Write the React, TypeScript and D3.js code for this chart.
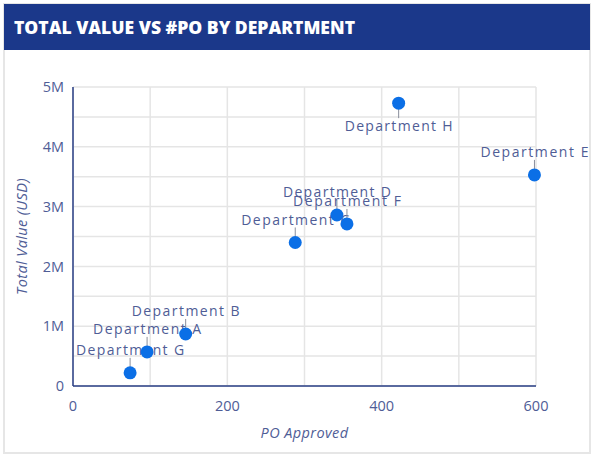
import * as d3 from "d3";

// departments, PO approved count and total value (USD)
const departments = ["Department A", "Department B", "Department C", "Department D", "Department E", "Department F", "Department G", "Department H"];
const poApproved = [96, 146, 288, 342, 598, 355, 74, 422];
const totalValue = [570000, 870000, 2400000, 2860000, 3530000, 2710000, 220000, 4730000];
const labelBelow = ["Department H"];

const xTicks = [0, 200, 400, 600];
const yTicks = [0, 1000000, 2000000, 3000000, 4000000, 5000000];

const W = 594;
const H = 455;
const margin = { top: 87, right: 58, bottom: 69, left: 73 };
const font = "'Open Sans', 'Noto Sans', sans-serif";
const textColor = "#4f5d96";

const fmtY = (v: number) => (v === 0 ? "0" : `${v / 1e6}M`);

export default function App() {
    const x = d3.scaleLinear().domain([0, 600]).range([margin.left, W - margin.right]);
    const y = d3.scaleLinear().domain([0, 5000000]).range([H - margin.bottom, margin.top]);

    const xGrid = d3.range(0, 601, 100);
    const yGrid = d3.range(0, 5000001, 500000);

    return (
        <svg width={W} height={H} style={{ position: "absolute", left: 0, top: 0 }}>
            {/* card */}
            <rect x={4} y={4} width={586} height={449} fill="#fff" stroke="#e6e6e6" strokeWidth={2} />
            <rect x={4} y={4} width={586} height={46} fill="#1b388a" />
            <text x={14} y={34} fill="#fff" fontFamily={font} fontWeight={800} fontSize={17.5} textLength={341} lengthAdjust="spacingAndGlyphs">
                TOTAL VALUE VS #PO BY DEPARTMENT
            </text>

            {/* grid */}
            {xGrid.map((v) => (
                <line key={"gx" + v} x1={x(v)} x2={x(v)} y1={y(0)} y2={y(5000000)} stroke="#e5e5e5" strokeWidth={1.5} />
            ))}
            {yGrid.map((v) => (
                <line key={"gy" + v} x1={x(0)} x2={x(600)} y1={y(v)} y2={y(v)} stroke="#e5e5e5" strokeWidth={1.5} />
            ))}

            {/* axes */}
            <line x1={x(0)} x2={x(0)} y1={y(0)} y2={y(5000000)} stroke="#2a3f86" strokeWidth={1.5} />
            <line x1={x(0)} x2={x(600)} y1={y(0)} y2={y(0)} stroke="#2a3f86" strokeWidth={1.5} />
            {yTicks.map((v) => (
                <text key={"ty" + v} x={x(0) - 9} y={y(v)} dy="0.36em" textAnchor="end" fill={textColor} fontFamily={font} fontSize={14.5}>
                    {fmtY(v)}
                </text>
            ))}
            {xTicks.map((v) => (
                <text key={"tx" + v} x={x(v)} y={y(0) + 20} dy="0.36em" textAnchor="middle" fill={textColor} fontFamily={font} fontSize={14.5}>
                    {v}
                </text>
            ))}
            <text x={(x(0) + x(600)) / 2} y={433} dy="0.36em" textAnchor="middle" fill={textColor} fontFamily={font} fontSize={14.5} fontStyle="italic" letterSpacing={0.4}>
                PO Approved
            </text>
            <text transform={`translate(22,${(y(0) + y(5000000)) / 2}) rotate(-90)`} dy="0.36em" textAnchor="middle" fill={textColor} fontFamily={font} fontSize={14.5} fontStyle="italic" letterSpacing={0.4}>
                Total Value (USD)
            </text>

            {/* points with labels */}
            {departments.map((d, i) => {
                const cx = x(poApproved[i]);
                const cy = y(totalValue[i]);
                const below = labelBelow.includes(d);
                const s = below ? 1 : -1;
                return (
                    <g key={d}>
                        <line x1={cx} x2={cx} y1={cy + s * 6} y2={cy + s * 15} stroke="#8a8f9c" strokeWidth={1} />
                        <text x={cx} y={cy + s * 23} dy="0.36em" textAnchor="middle" fill={textColor} fontFamily={font} fontSize={14} textLength={108} lengthAdjust="spacing">
                            {d}
                        </text>
                    </g>
                );
            })}
            {departments.map((d, i) => (
                <circle key={"c" + d} cx={x(poApproved[i])} cy={y(totalValue[i])} r={6.5} fill="#0b6fe6" />
            ))}
        </svg>
    );
}
